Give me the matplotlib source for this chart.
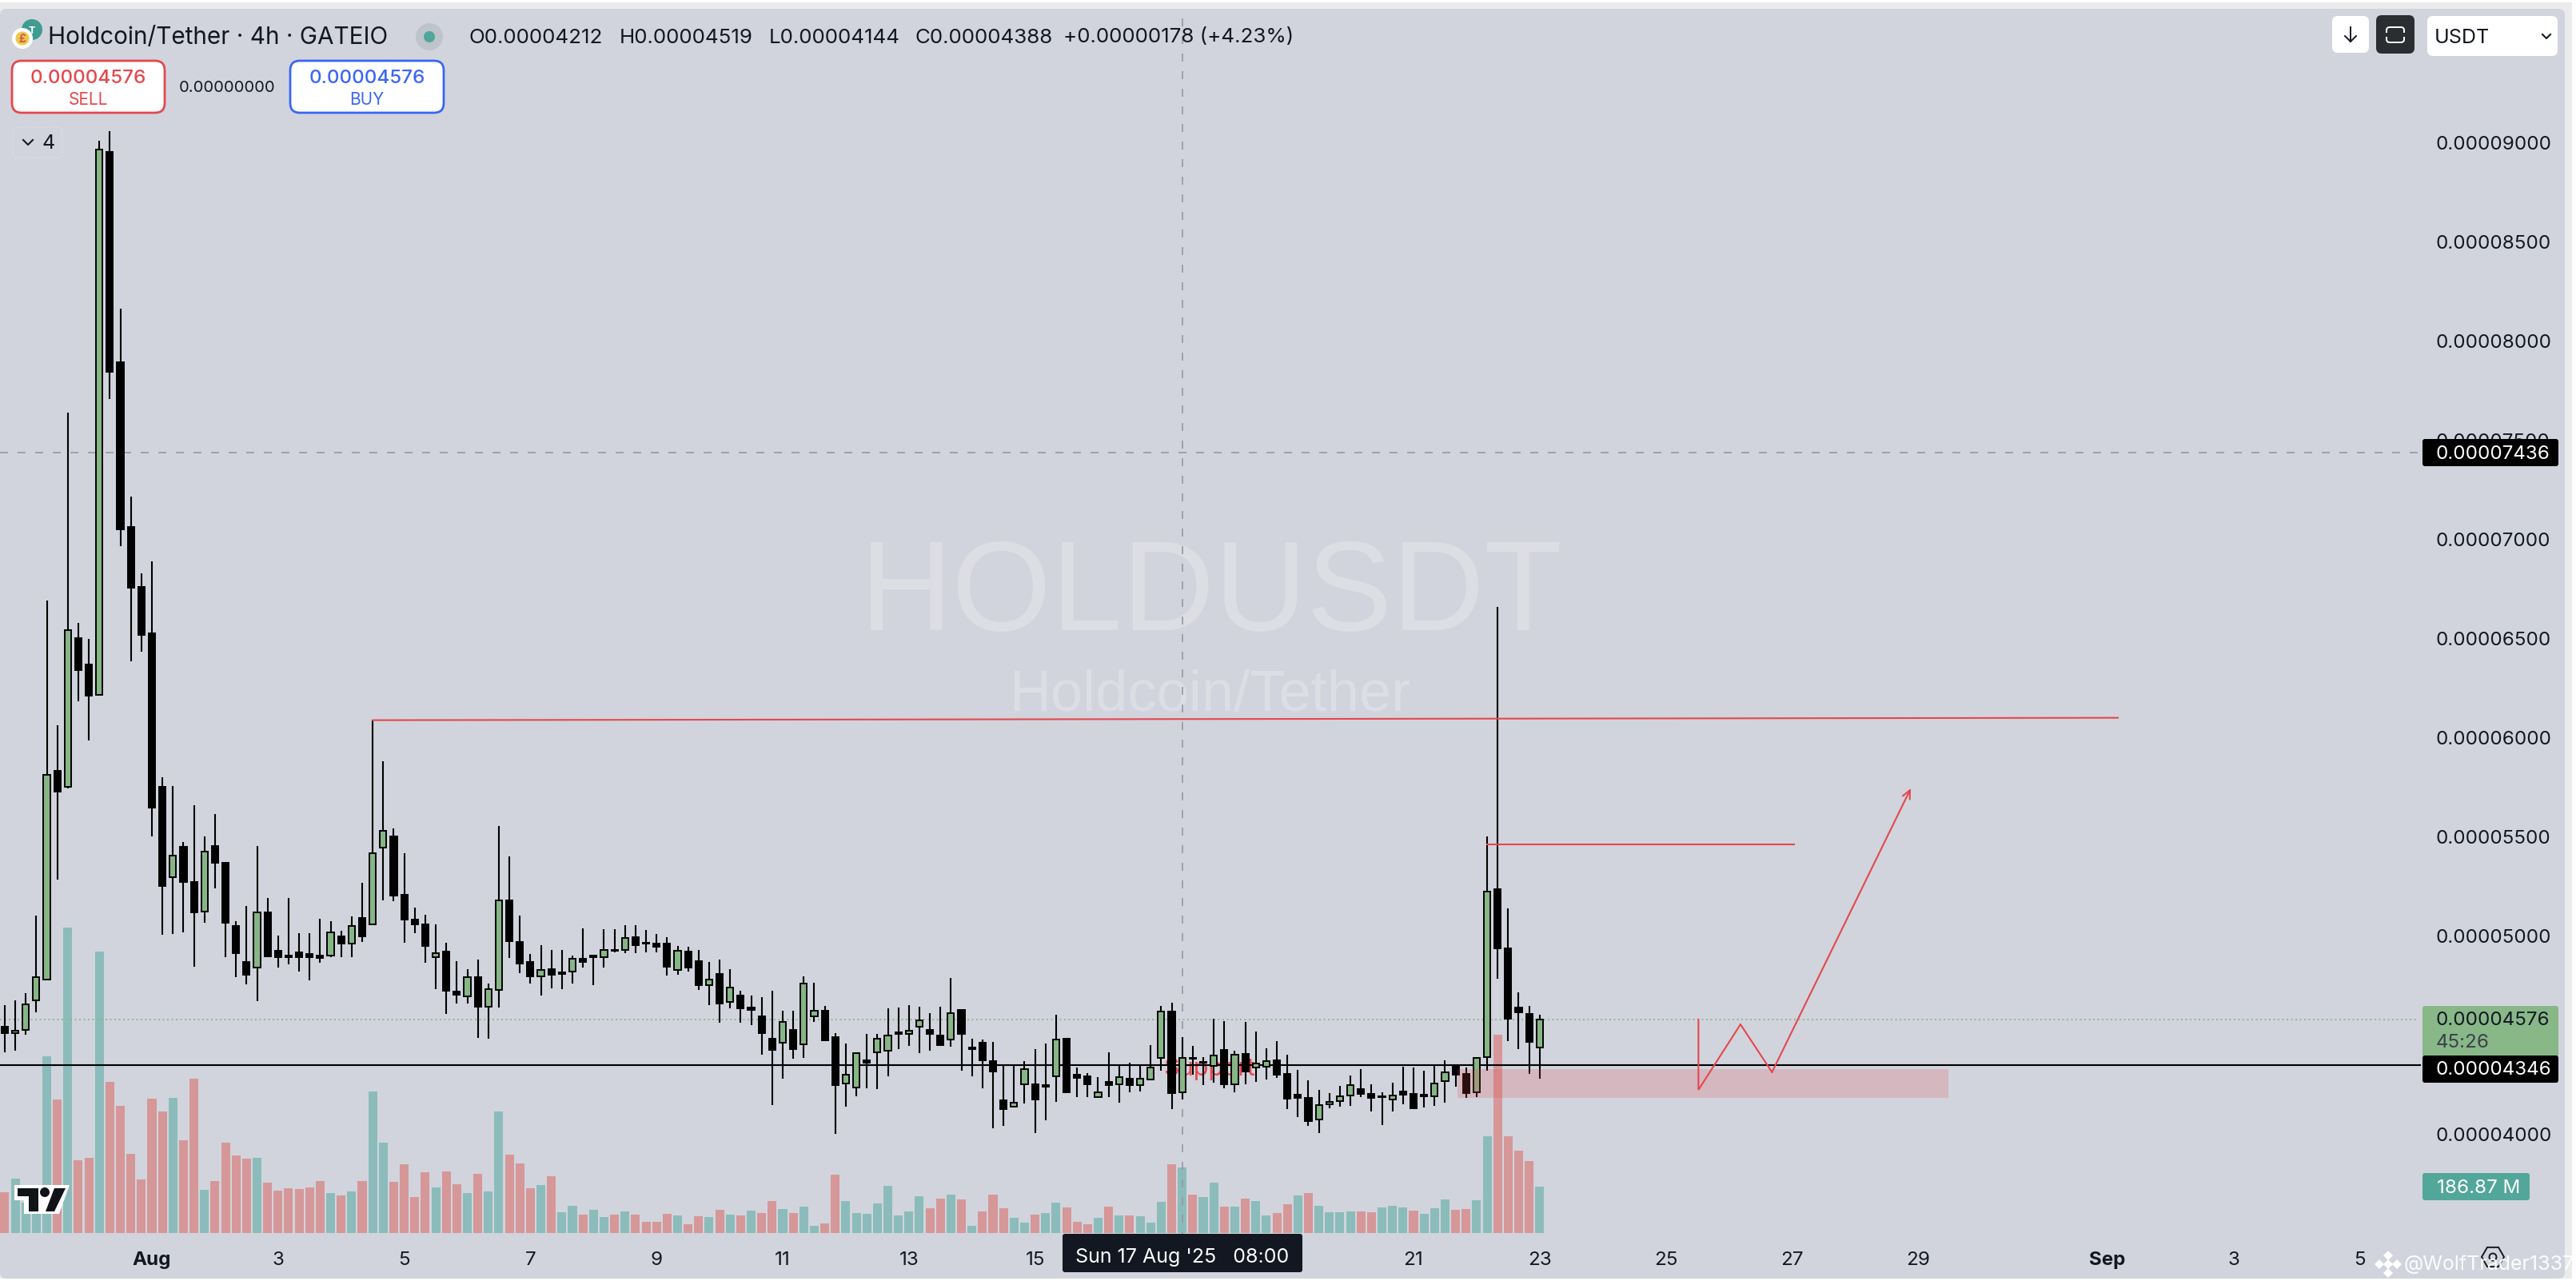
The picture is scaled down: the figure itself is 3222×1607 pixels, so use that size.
import numpy as np
import matplotlib
matplotlib.use('Agg')
import matplotlib.pyplot as plt
from matplotlib.patches import Circle, FancyBboxPatch, Polygon, Rectangle, RegularPolygon

plt.rcParams['font.family'] = ['Inter', 'DejaVu Sans']

# prices are in units of 0.00001 USDT, one candle every 4h, candle 14 = 1 Aug 00:00
opens = [
    4.541, 4.508, 4.523, 4.672, 4.780, 5.832, 5.750, 6.499, 6.365, 6.212,
    8.953, 7.890, 7.059, 6.757, 6.522, 5.750, 5.295, 5.448, 5.269, 5.120,
    5.451, 5.366, 5.049, 4.866, 4.840, 5.116, 4.922, 4.899, 4.915, 4.907,
    4.899, 4.899, 4.996, 4.959, 5.090, 5.056, 5.444, 5.500, 5.207, 5.081,
    5.056, 4.890, 4.919, 4.719, 4.694, 4.790, 4.643, 4.726, 5.178, 4.967,
    4.867, 4.796, 4.832, 4.815, 4.819, 4.884, 4.900, 4.890, 4.929, 4.929,
    4.992, 4.964, 4.960, 4.960, 4.825, 4.919, 4.869, 4.750, 4.805, 4.667,
    4.699, 4.636, 4.591, 4.481, 4.460, 4.526, 4.451, 4.593, 4.622, 4.489,
    4.254, 4.235, 4.370, 4.412, 4.419, 4.511, 4.503, 4.539, 4.523, 4.495,
    4.474, 4.624, 4.434, 4.458, 4.365, 4.168, 4.136, 4.249, 4.249, 4.245,
    4.289, 4.479, 4.297, 4.289, 4.184, 4.261, 4.249, 4.277, 4.245, 4.275,
    4.384, 4.616, 4.210, 4.384, 4.364, 4.343, 4.422, 4.249, 4.402, 4.335,
    4.337, 4.370, 4.301, 4.196, 4.180, 4.073, 4.148, 4.164, 4.194, 4.224,
    4.203, 4.188, 4.175, 4.212, 4.202, 4.196, 4.188, 4.265, 4.337, 4.301,
    4.208, 4.386, 5.234, 4.935, 4.637, 4.604, 4.435]
highs = [
    4.650, 4.672, 4.709, 5.101, 6.689, 6.059, 7.637, 6.578, 6.495, 9.009,
    9.057, 8.159, 7.215, 6.827, 6.887, 5.798, 5.753, 5.470, 5.656, 5.500,
    5.612, 5.366, 5.071, 5.149, 5.451, 5.190, 5.000, 5.190, 5.011, 5.011,
    5.086, 5.071, 5.023, 5.097, 5.265, 6.086, 5.880, 5.542, 5.417, 5.143,
    5.106, 5.056, 4.964, 4.871, 4.829, 4.877, 4.757, 5.552, 5.398, 5.102,
    4.906, 4.950, 4.929, 4.929, 4.898, 5.038, 4.902, 5.034, 5.034, 5.054,
    5.054, 5.027, 5.006, 4.991, 4.946, 4.942, 4.929, 4.865, 4.877, 4.832,
    4.721, 4.699, 4.688, 4.721, 4.622, 4.622, 4.796, 4.761, 4.647, 4.507,
    4.456, 4.410, 4.505, 4.505, 4.632, 4.636, 4.648, 4.641, 4.608, 4.640,
    4.786, 4.624, 4.478, 4.474, 4.462, 4.352, 4.352, 4.366, 4.426, 4.454,
    4.599, 4.483, 4.333, 4.306, 4.285, 4.410, 4.345, 4.357, 4.345, 4.448,
    4.644, 4.660, 4.487, 4.442, 4.386, 4.579, 4.567, 4.419, 4.563, 4.515,
    4.430, 4.466, 4.399, 4.321, 4.270, 4.220, 4.204, 4.241, 4.293, 4.325,
    4.249, 4.208, 4.258, 4.337, 4.335, 4.319, 4.345, 4.371, 4.341, 4.335,
    4.386, 5.501, 6.658, 5.139, 4.712, 4.644, 4.602]
lows = [
    4.411, 4.419, 4.500, 4.612, 4.780, 5.284, 5.742, 6.182, 5.985, 6.212,
    7.707, 6.962, 6.384, 6.432, 5.500, 5.004, 5.008, 5.015, 4.844, 5.063,
    5.239, 4.892, 4.791, 4.754, 4.668, 4.892, 4.840, 4.855, 4.817, 4.773,
    4.862, 4.892, 4.892, 4.892, 4.967, 5.056, 5.176, 5.172, 4.962, 5.014,
    4.861, 4.728, 4.603, 4.659, 4.659, 4.485, 4.481, 4.636, 4.886, 4.809,
    4.759, 4.699, 4.732, 4.728, 4.759, 4.840, 4.748, 4.840, 4.917, 4.913,
    4.913, 4.917, 4.917, 4.800, 4.803, 4.819, 4.724, 4.651, 4.562, 4.632,
    4.559, 4.549, 4.400, 4.144, 4.279, 4.377, 4.385, 4.566, 4.470, 4.001,
    4.138, 4.188, 4.231, 4.225, 4.292, 4.429, 4.445, 4.409, 4.421, 4.446,
    4.441, 4.320, 4.290, 4.231, 4.030, 4.042, 4.136, 4.155, 4.003, 4.070,
    4.163, 4.211, 4.187, 4.185, 4.184, 4.187, 4.159, 4.211, 4.215, 4.271,
    4.319, 4.126, 4.173, 4.298, 4.246, 4.259, 4.231, 4.211, 4.251, 4.262,
    4.274, 4.282, 4.126, 4.085, 4.042, 4.003, 4.130, 4.137, 4.141, 4.187,
    4.114, 4.046, 4.114, 4.151, 4.126, 4.133, 4.141, 4.157, 4.238, 4.181,
    4.187, 4.320, 4.784, 4.466, 4.426, 4.303, 4.280]
closes = [
    4.508, 4.519, 4.653, 4.791, 5.809, 5.724, 6.540, 6.339, 6.208, 8.964,
    7.842, 7.047, 6.753, 6.514, 5.645, 5.250, 5.403, 5.269, 5.116, 5.425,
    5.366, 5.063, 4.911, 4.803, 5.116, 4.896, 4.892, 4.892, 4.892, 4.892,
    4.885, 5.015, 4.959, 5.049, 4.996, 5.417, 5.527, 5.203, 5.079, 5.058,
    4.946, 4.913, 4.721, 4.703, 4.792, 4.643, 4.728, 5.176, 4.973, 4.858,
    4.796, 4.825, 4.803, 4.807, 4.884, 4.865, 4.892, 4.929, 4.923, 4.987,
    4.950, 4.958, 4.942, 4.844, 4.925, 4.840, 4.748, 4.780, 4.659, 4.736,
    4.632, 4.626, 4.507, 4.422, 4.564, 4.427, 4.759, 4.620, 4.470, 4.244,
    4.300, 4.408, 4.360, 4.481, 4.497, 4.505, 4.522, 4.571, 4.505, 4.449,
    4.610, 4.505, 4.429, 4.372, 4.316, 4.126, 4.159, 4.328, 4.175, 4.239,
    4.477, 4.211, 4.284, 4.251, 4.208, 4.247, 4.288, 4.247, 4.280, 4.336,
    4.618, 4.207, 4.384, 4.380, 4.359, 4.397, 4.251, 4.401, 4.316, 4.356,
    4.368, 4.300, 4.179, 4.183, 4.066, 4.146, 4.163, 4.191, 4.247, 4.203,
    4.180, 4.184, 4.195, 4.199, 4.129, 4.191, 4.255, 4.312, 4.300, 4.207,
    4.384, 5.220, 4.937, 4.581, 4.611, 4.462, 4.575]

# volume in millions and whether the volume bar is the "up" colour
volume = [
    164, 220, 122, 122, 712, 539, 1230, 292, 304, 1135,
    610, 512, 319, 217, 542, 488, 545, 372, 622, 173,
    208, 363, 313, 298, 304, 203, 170, 179, 176, 185,
    208, 162, 151, 168, 209, 570, 363, 206, 277, 145,
    245, 183, 248, 197, 162, 239, 168, 490, 316, 280,
    180, 194, 229, 85, 109, 74, 94, 65, 74, 88,
    74, 45, 45, 77, 71, 35, 68, 65, 94, 74,
    71, 91, 80, 129, 97, 80, 106, 29, 38, 236,
    129, 80, 77, 119, 190, 71, 87, 148, 100, 138,
    155, 135, 29, 87, 155, 100, 61, 42, 74, 80,
    122, 103, 45, 35, 61, 106, 71, 71, 68, 42,
    126, 277, 264, 155, 145, 203, 106, 106, 138, 129,
    71, 80, 116, 151, 161, 109, 84, 84, 87, 87,
    84, 103, 109, 103, 90, 77, 100, 135, 93, 97,
    132, 390, 799, 390, 332, 290, 187]
volume_up = [
    0, 1, 1, 1, 1, 0, 1, 0, 0, 1,
    0, 0, 0, 0, 0, 0, 1, 0, 0, 1,
    0, 0, 0, 0, 1, 0, 0, 0, 0, 0,
    0, 1, 0, 1, 0, 1, 1, 0, 0, 0,
    0, 1, 0, 0, 1, 0, 1, 1, 0, 0,
    0, 1, 0, 1, 1, 0, 1, 1, 0, 1,
    0, 0, 0, 0, 1, 0, 0, 1, 0, 1,
    0, 1, 0, 0, 1, 0, 1, 1, 0, 0,
    1, 1, 1, 1, 1, 1, 1, 1, 0, 0,
    1, 0, 1, 0, 0, 0, 1, 1, 0, 1,
    1, 0, 0, 0, 1, 0, 1, 0, 1, 1,
    1, 0, 1, 0, 1, 1, 0, 1, 0, 1,
    1, 0, 0, 1, 0, 1, 1, 1, 1, 0,
    0, 1, 1, 1, 0, 1, 1, 1, 0, 0,
    1, 1, 0, 0, 0, 0, 1]

price_ticks = [9.0, 8.5, 8.0, 7.5, 7.0, 6.5, 6.0, 5.5, 5.0, 4.5, 4.0]
price_labels = ['0.00009000', '0.00008500', '0.00008000', '0.00007500', '0.00007000',
                '0.00006500', '0.00006000', '0.00005500', '0.00005000', '0.00004500', '0.00004000']
# days counted from 1 Aug, Sep 1 = 32
date_days = [1, 3, 5, 7, 9, 11, 13, 15, 21, 23, 25, 27, 29, 32, 34, 36]
date_labels = ['Aug', '3', '5', '7', '9', '11', '13', '15', '21', '23', '25', '27', '29', 'Sep', '3', '5']

last_price = 4.576
support_price = 4.346
marked_price = 7.436
crosshair_candle = 112

# drawings as (candle, price)
top_line = [(35, 6.086), (201, 6.098)]
mid_line = [(141, 5.458), (170.2, 5.458)]
path_line = [(161.1, 4.577), (161.1, 4.222), (165.1, 4.552), (168.1, 4.311)]
path_arrow = [(168.1, 4.311), (181.3, 5.742)]
zone = [138.2, 184.9, 4.183, 4.327]

BG = '#d1d4dc'
RED = '#e5474d'
BLUE = '#3a66f5'
INK = '#131722'
W, H = 3222, 1608


def pixel_axes(zorder):
    a = fig.add_axes([0, 0, 1, 1], zorder=zorder)
    a.set_xlim(0, W)
    a.set_ylim(H, 0)
    a.axis('off')
    a.patch.set_visible(False)
    return a


def box(a, x0, y0, x1, y1, color, rounding=5, **kw):
    a.add_patch(FancyBboxPatch((x0, y0), x1 - x0, y1 - y0, boxstyle=f'round,pad=0,rounding_size={rounding}',
                               facecolor=color, **kw))


fig = plt.figure(figsize=(W / 100, H / 100), dpi=100, facecolor='white')

# page, panel and watermark
base = pixel_axes(0)
base.add_patch(Rectangle((0, 4), 3217, 1596, color='#ebebeb', lw=0))
box(base, 0, 12, 3208, 1600, BG, rounding=8, lw=0)
base.text(1515, 747, 'HOLDUSDT', fontsize=115, family='Liberation Sans', color='#dcdee4', ha='center', va='center')
base.text(1513, 871, 'Holdcoin/Tether', fontsize=52, family='Liberation Sans', color='#dcdee4', ha='center', va='center')

# axes run from pixel x 0..3030 and y 12..1552
rect = [0, (H - 1552) / H, 3030 / W, 1540 / H]
vol_ax = fig.add_axes(rect, zorder=1)
vol_ax.patch.set_visible(False)
vol_ax.set_xlim(-0.449, 229.97)
vol_ax.set_ylim(-29, 4930)
vol_ax.axis('off')

x = np.arange(len(closes))
vol_colors = ['#8bbcbb' if up else '#d69798' for up in volume_up]
vol_ax.bar(x, volume, width=0.84, color=vol_colors, lw=0)

ax = fig.add_axes(rect, zorder=2)
ax.patch.set_visible(False)
ax.set_xlim(-0.449, 229.97)
ax.set_ylim(3.4637, 9.673)
for s in ax.spines.values():
    s.set_visible(False)

ax.axhline(marked_price, color='#9598a1', lw=1.2, ls=(0, (6, 7.2)), zorder=1)
ax.axvline(crosshair_candle, color='#9598a1', lw=1.2, ls=(0, (6, 7.2)), zorder=1)
ax.axhline(last_price, xmax=0.998, color='#84b784', lw=1.2, ls=(0, (1.2, 2.1)), zorder=1)
ax.axhline(support_price, xmax=0.999, color='black', lw=1.5, zorder=2)

ax.text(114.6, 4.33, 'Support', color=RED, fontsize=22, ha='center', va='center', zorder=1.5)

opens_a, closes_a = np.array(opens), np.array(closes)
rising = closes_a >= opens_a
ax.vlines(x, lows, highs, color='black', lw=1.5, zorder=3)
body_colors = ['#86b686' if r else 'black' for r in rising]
ax.bar(x, closes_a - opens_a, bottom=opens_a, width=0.62, color=body_colors, edgecolor='black', lw=1.4, zorder=4)

ax.add_patch(Rectangle((zone[0], zone[2]), zone[1] - zone[0], zone[3] - zone[2], color=RED, alpha=0.2, lw=0, zorder=5))
for line in (top_line, mid_line, path_line):
    ax.plot(*zip(*line), color=RED, lw=1.5, zorder=6, solid_joinstyle='miter')
ax.annotate('', xy=path_arrow[1], xytext=path_arrow[0], zorder=6,
            arrowprops=dict(arrowstyle='->,head_length=0.75,head_width=0.35', color=RED, lw=1.5,
                            shrinkA=0, shrinkB=0))

ax.yaxis.tick_right()
ax.set_yticks(price_ticks, price_labels)
ax.set_xticks([14 + (d - 1) * 6 for d in date_days], date_labels)
ax.tick_params(axis='both', length=0, labelsize=17.4, labelcolor=INK)
ax.tick_params(axis='y', pad=12)
ax.tick_params(axis='x', pad=9.6)
for t in ax.get_yticklabels():
    t.set_va('center_baseline')
for t in ax.get_xticklabels():
    if t.get_text() in ('Aug', 'Sep'):
        t.set_fontweight('bold')

# chart UI on top
ui = pixel_axes(3)

# price and time labels
box(ui, 3030, 550, 3200, 584, 'black', rounding=3, lw=0)
ui.text(3047, 568, '0.00007436', color='white', fontsize=17.4, va='center')
box(ui, 3030, 1259, 3200, 1323, '#88b788', rounding=3, lw=0)
ui.text(3047, 1276, '0.00004576', color=INK, fontsize=17.4, va='center')
ui.text(3047, 1304, '45:26', color='#3b3f4a', fontsize=17.4, va='center')
box(ui, 1329, 1544, 1629, 1592, INK, rounding=3, lw=0)
ui.text(1479, 1573, "Sun 17 Aug '25   08:00", color='white', fontsize=18, ha='center', va='center')
box(ui, 3030, 1321, 3200, 1355, 'black', rounding=3, lw=0)
ui.text(3047, 1338, '0.00004346', color='white', fontsize=17.4, va='center')
box(ui, 3030, 1468, 3164, 1502, '#53a69a', rounding=3, lw=0)
ui.text(3048, 1486, '186.87 M', color='white', fontsize=17.4, va='center')

# header
ui.add_patch(Circle((40, 38), 13, color='#3f9c90', lw=0))
ui.text(40, 39, 'T', color='white', fontsize=9, ha='center', va='center', fontweight='bold')
ui.add_patch(Circle((28, 49), 13, color='white', lw=0))
ui.add_patch(Circle((28, 49), 8.5, color='#ecc94b', lw=0))
ui.text(28, 49, '£', color='#d9534f', fontsize=10, ha='center', va='center', fontweight='bold')
ui.text(60, 47, 'Holdcoin/Tether · 4h · GATEIO', color=INK, fontsize=21.4, va='center')
ui.add_patch(Circle((537, 47), 17, color='#bfc3cb', lw=0))
ui.add_patch(Circle((537, 47), 7, color='#4fa69a', lw=0))
ohlc_x = [586, 775, 962, 1144, 1330]
ohlc_text = ['O0.00004212', 'H0.00004519', 'L0.00004144', 'C0.00004388', '+0.00000178 (+4.23%)']
for px, s in zip(ohlc_x, ohlc_text):
    ui.text(px, 47, s, color=INK, fontsize=18.7, va='center')

box(ui, 15, 77, 206, 142, 'white', rounding=12, edgecolor=RED, lw=2)
ui.text(110, 98, '0.00004576', color=RED, fontsize=17.4, ha='center', va='center', fontweight='medium')
ui.text(110, 125, 'SELL', color=RED, fontsize=15, ha='center', va='center')
ui.text(284, 110, '0.00000000', color=INK, fontsize=14.5, ha='center', va='center')
box(ui, 363, 77, 555, 142, 'white', rounding=12, edgecolor=BLUE, lw=2)
ui.text(459, 98, '0.00004576', color=BLUE, fontsize=17.4, ha='center', va='center', fontweight='medium')
ui.text(459, 125, 'BUY', color=BLUE, fontsize=15, ha='center', va='center')

box(ui, 16, 160, 78, 198, 'none', rounding=6, edgecolor='#dfe1e7', lw=1, ls=':')
ui.plot([29, 35, 41], [176, 182, 176], color=INK, lw=1.5)
ui.text(61, 179, '4', color=INK, fontsize=18, ha='center', va='center')

# top right controls
box(ui, 2917, 21, 2963, 67, 'white', rounding=7, lw=0)
ui.plot([2940, 2940], [35, 53], color=INK, lw=1.4)
ui.plot([2933, 2940, 2947], [46, 53, 46], color=INK, lw=1.4)
box(ui, 2972, 20, 3020, 68, '#2a2e31', rounding=7, lw=0)
box(ui, 2985, 35, 3007, 54, 'none', rounding=4, edgecolor='white', lw=1.4)
ui.add_patch(Rectangle((2982, 42), 28, 5, color='#2a2e31', lw=0))
box(ui, 3036, 21, 3199, 71, 'white', rounding=7, lw=0)
ui.text(3045, 47, 'USDT', color=INK, fontsize=18, va='center')
ui.plot([3180, 3185, 3190], [44, 49, 44], color=INK, lw=1.5)

# tradingview logo
ui.add_patch(Polygon([(18, 1483), (87, 1483), (74, 1519), (30, 1519), (30, 1502), (18, 1502)], color='white', lw=0))
ui.add_patch(Polygon([(22, 1487), (48, 1487), (48, 1516), (36, 1516), (36, 1497), (22, 1497)], color='#101318', lw=0))
ui.add_patch(Polygon([(68, 1487), (82, 1487), (68, 1516), (57, 1516)], color='#101318', lw=0))
ui.add_patch(Circle((56, 1492), 6, color='#101318', lw=0))

# gear and repost watermark
ui.add_patch(RegularPolygon((3118, 1573), 6, radius=14, orientation=np.pi / 2, fill=False, edgecolor=INK, lw=1.4))
ui.add_patch(Circle((3118, 1573), 4.5, fill=False, edgecolor=INK, lw=1.4))
for dx, dy in [(0, -11), (-11, 0), (11, 0), (0, 11), (0, 0)]:
    ui.plot(2987 + dx, 1582 + dy, marker='D', ms=6, color='white', mew=0)
ui.text(3007, 1581, '@WolfTrader1337', color='white', fontsize=18, va='center', alpha=0.95)

fig.savefig('out.png', dpi=100)
